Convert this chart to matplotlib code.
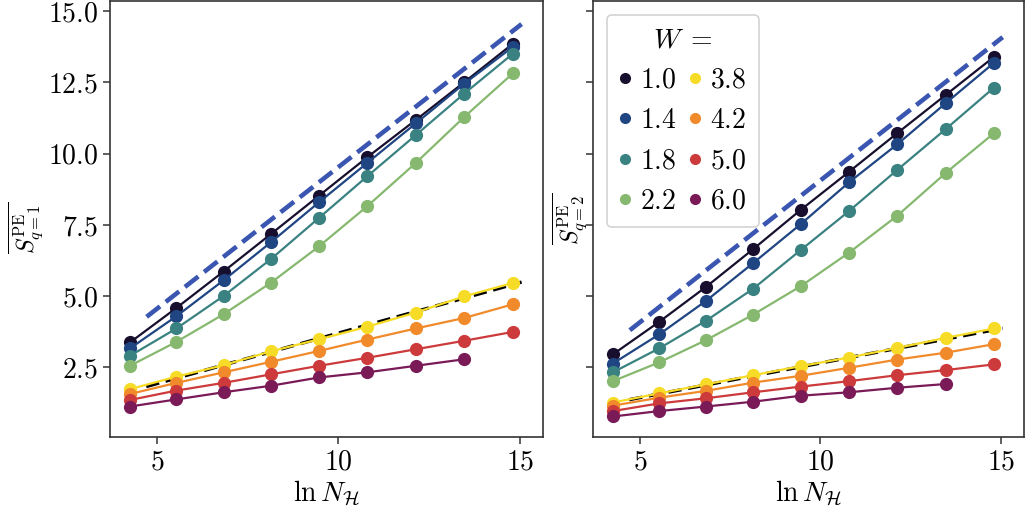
import matplotlib
matplotlib.use("Agg")
import matplotlib.pyplot as plt
from matplotlib.lines import Line2D

plt.rcParams['mathtext.fontset'] = 'cm'
plt.rcParams['font.family'] = 'serif'
plt.rcParams['font.serif'] = ['cmr10', 'DejaVu Serif']

# ---- data ----
lnN = [4.25, 5.53, 6.83, 8.14, 9.46, 10.79, 12.13, 13.47, 14.81]
W_labels = ['1.0', '1.4', '1.8', '2.2', '3.8', '4.2', '5.0', '6.0']
colors = ['#170f2d', '#1f4583', '#3a8281', '#86b86f',
          '#f7dc27', '#f08a2b', '#cc3a3c', '#7a1b58']

q1 = {
    '1.0': [3.37, 4.58, 5.86, 7.18, 8.52, 9.87, 11.18, 12.51, 13.86],
    '1.4': [3.16, 4.29, 5.55, 6.89, 8.29, 9.67, 11.06, 12.46, 13.75],
    '1.8': [2.90, 3.86, 5.00, 6.30, 7.74, 9.20, 10.65, 12.11, 13.51],
    '2.2': [2.55, 3.39, 4.36, 5.47, 6.74, 8.15, 9.67, 11.29, 12.82],
    '3.8': [1.73, 2.17, 2.57, 3.06, 3.48, 3.92, 4.42, 4.99, 5.46],
    '4.2': [1.56, 1.95, 2.32, 2.69, 3.07, 3.47, 3.86, 4.23, 4.71],
    '5.0': [1.35, 1.68, 1.95, 2.25, 2.55, 2.83, 3.13, 3.43, 3.74],
    '6.0': [1.12, 1.37, 1.62, 1.85, 2.14, 2.32, 2.55, 2.78],
}
q2 = {
    '1.0': [2.95, 4.09, 5.32, 6.65, 8.03, 9.36, 10.72, 12.06, 13.40],
    '1.4': [2.63, 3.65, 4.83, 6.16, 7.53, 8.99, 10.33, 11.77, 13.19],
    '1.8': [2.32, 3.16, 4.13, 5.26, 6.62, 7.98, 9.43, 10.86, 12.32],
    '2.2': [2.01, 2.67, 3.45, 4.35, 5.35, 6.52, 7.82, 9.32, 10.72],
    '3.8': [1.26, 1.58, 1.90, 2.22, 2.54, 2.84, 3.18, 3.53, 3.86],
    '4.2': [1.15, 1.43, 1.67, 1.96, 2.20, 2.48, 2.77, 3.01, 3.31],
    '5.0': [0.96, 1.23, 1.41, 1.62, 1.82, 2.01, 2.22, 2.40, 2.60],
    '6.0': [0.77, 0.96, 1.12, 1.29, 1.50, 1.62, 1.78, 1.91],
}

# reference (dashed) lines: x endpoints and y endpoints
blue_x_q1 = [4.71, 15.05]
blue_y_q1 = [4.27, 14.55]
black_x_q1 = [4.70, 15.05]
black_y_q1 = [1.82, 5.49]
blue_x_q2 = [4.72, 15.05]
blue_y_q2 = [3.80, 14.09]
black_x_q2 = [4.70, 15.05]
black_y_q2 = [1.36, 3.87]

xticks = [5, 10, 15]
yticks = [2.5, 5.0, 7.5, 10.0, 12.5, 15.0]
ylabels = [r'$\overline{S^{\rm PE}_{q=1}}$', r'$\overline{S^{\rm PE}_{q=2}}$']
xlabel = r'$\ln N_{\mathcal{H}}$'

# ---- figure ----
fig = plt.figure(figsize=(10.25, 5.08), dpi=100)
ax1 = fig.add_axes([110 / 1025, 71 / 508, 433 / 1025, 436 / 508])
ax2 = fig.add_axes([593 / 1025, 71 / 508, 431 / 1025, 436 / 508], sharey=ax1)

FS = 20
for ax, data, bx, by, kx, ky, yl in [
        (ax1, q1, blue_x_q1, blue_y_q1, black_x_q1, black_y_q1, ylabels[0]),
        (ax2, q2, blue_x_q2, blue_y_q2, black_x_q2, black_y_q2, ylabels[1])]:
    for lab, c in zip(W_labels, colors):
        ys = data[lab]
        ax.plot(lnN[:len(ys)], ys, '-o', color=c, lw=1.6, ms=9.5,
                markeredgewidth=0, zorder=2)
    ax.plot(kx, ky, '--', color='black', lw=2.4, dashes=(4, 2), zorder=1.5)
    ax.plot(bx, by, '--', color='#3a56b0', lw=3.3, zorder=3)
    ax.set_xlim(3.70, 15.64)
    ax.set_ylim(0.05, 15.36)
    ax.set_xticks(xticks)
    ax.set_xticklabels([f'${v}$' for v in xticks], fontsize=FS)
    ax.set_xlabel(xlabel, fontsize=FS, labelpad=2)
    ax.set_ylabel(yl, fontsize=17)
    for sp in ax.spines.values():
        sp.set_linewidth(1.2)
        sp.set_color('#333333')
    ax.tick_params(length=5, width=1.1, color='#333333')

ax1.set_yticks(yticks)
ax1.set_yticklabels([f'${v:.1f}$' for v in yticks], fontsize=FS)
ax2.tick_params(labelleft=False)
ax1.yaxis.set_label_coords(-0.150, 0.48)
ax2.yaxis.set_label_coords(-0.010, 0.50)

handles = [Line2D([], [], marker='o', ls='', color=c, ms=8, markeredgewidth=0)
           for c in colors]
leg = ax2.legend(handles, [f'${w}$' for w in W_labels], ncol=2,
                 title=r'$W\;=$', fontsize=FS, title_fontsize=FS,
                 loc='upper left', handlelength=0.4, handletextpad=0.35,
                 columnspacing=0.45, labelspacing=0.5, borderpad=0.45,
                 borderaxespad=0.5, framealpha=0.85, edgecolor='#cccccc')
leg.get_frame().set_linewidth(1.2)

fig.savefig('out.png', dpi=100)
